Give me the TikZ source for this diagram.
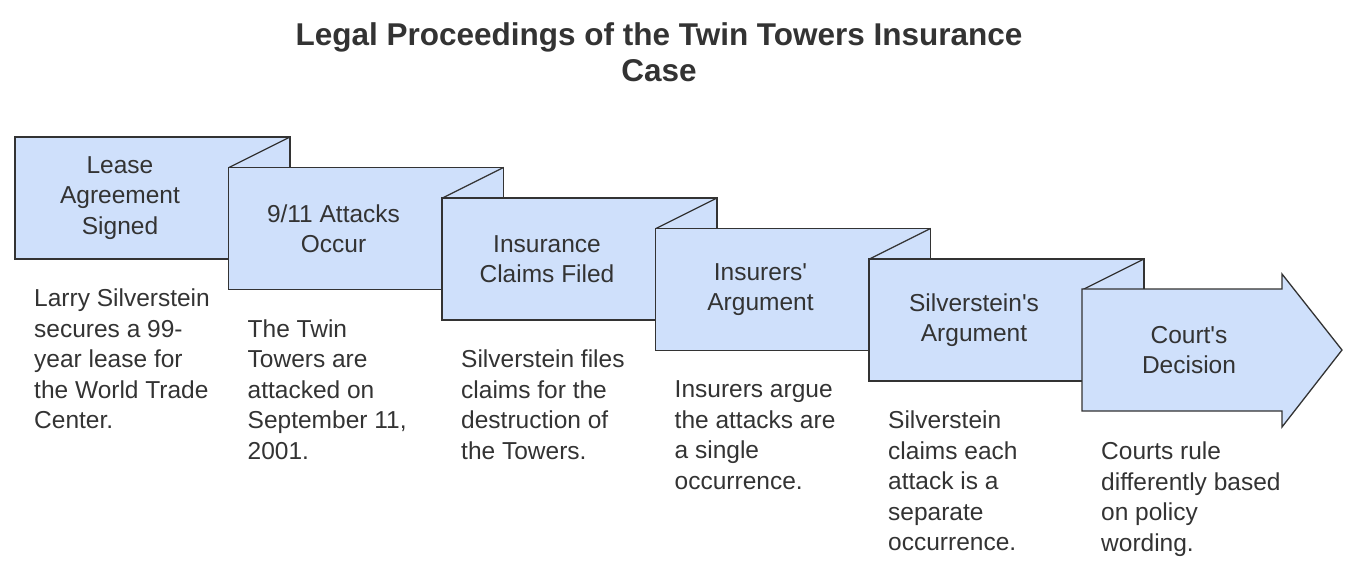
\documentclass[tikz,border=0pt]{standalone}
\usepackage{fontspec}
\setmainfont{Liberation Sans}
\begin{document}
\begin{tikzpicture}[x=1pt,y=-1pt,
  box/.style={fill=boxfill,draw=edge,line width=1.3pt,line join=miter},
  lab/.style={font=\fontsize{24.5}{30.5}\selectfont,text=txt,align=center,inner sep=0},
  desc/.style={font=\fontsize{24.5}{30.5}\selectfont,text=txt,align=left,anchor=north west,inner sep=0}]
\definecolor{boxfill}{HTML}{CFE0FB}
\definecolor{edge}{HTML}{333333}
\definecolor{txt}{HTML}{333333}
\useasboundingbox (0,0) rectangle (1358,579);
\node[font=\bfseries\fontsize{31.5}{36}\selectfont,text=txt,align=center] (title) at (659,52) {Legal Proceedings of the Twin Towers Insurance\\Case};
\foreach \i/\t/\d in {
 0/{Lease\\Agreement\\Signed}/{Larry Silverstein\\secures a 99-\\year lease for\\the World Trade\\Center.},
 1/{9/11 Attacks\\Occur}/{The Twin\\Towers are\\attacked on\\September 11,\\2001.},
 2/{Insurance\\Claims Filed}/{Silverstein files\\claims for the\\destruction of\\the Towers.},
 3/{Insurers\textquotesingle\\Argument}/{Insurers argue\\the attacks are\\a single\\occurrence.},
 4/{Silverstein\textquotesingle s\\Argument}/{Silverstein\\claims each\\attack is a\\separate\\occurrence.}}{
  \pgfmathsetmacro\L{15+213.5*\i}
  \pgfmathsetmacro\T{137+30.5*\i}
  \draw[box] (\L,\T) rectangle ++(275,122);
  \draw[box] (\L+214,\T+30.5) -- (\L+275,\T);
  \node[lab] (b\i) at (\L+105,\T+61) {\t};
  \node[desc] (d\i) at (\L+19,\T+152) {\d};
}
\draw[box] (1082,289) -- (1282,289) -- (1282,274) -- (1342,350) -- (1282,427) -- (1282,411) -- (1082,411) -- cycle;
\node[lab] (b5) at (1189,350) {Court\textquotesingle s\\Decision};
\node[desc] (d5) at (1101,442) {Courts rule\\differently based\\on policy\\wording.};
\end{tikzpicture}
\end{document}
